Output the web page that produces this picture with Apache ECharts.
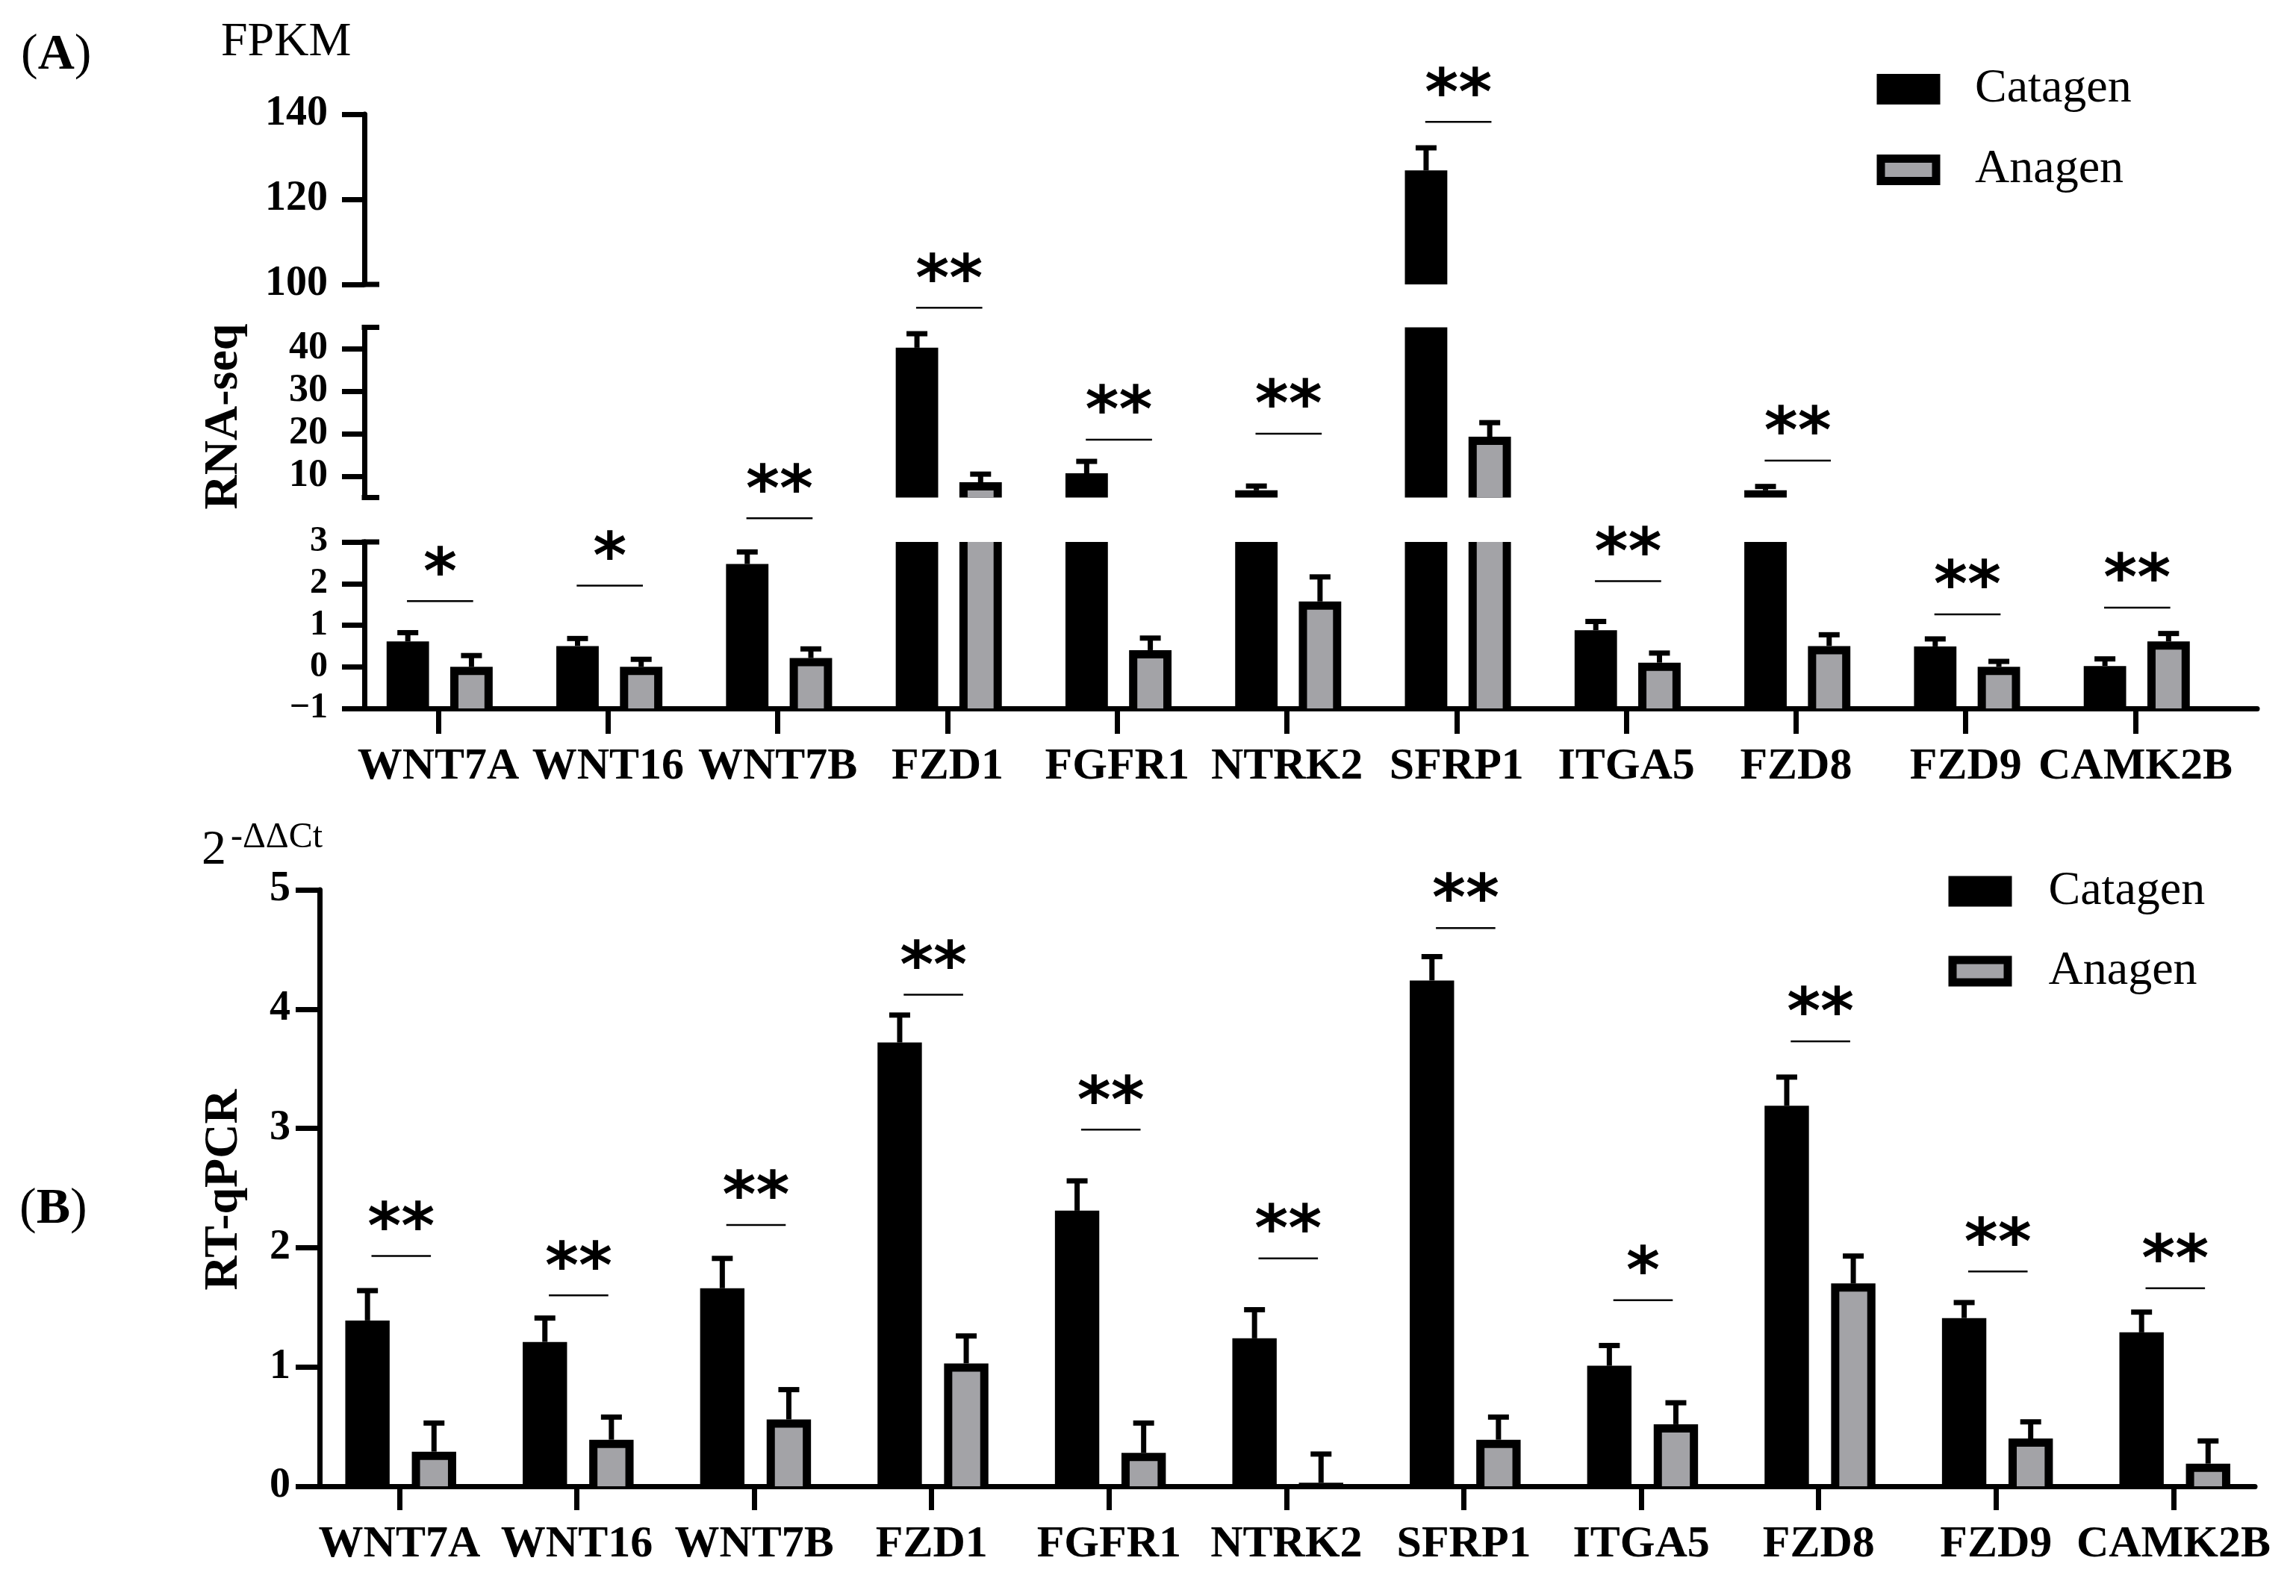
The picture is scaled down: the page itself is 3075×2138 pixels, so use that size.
<!DOCTYPE html>
<html><head><meta charset="utf-8">
<script src="https://cdn.jsdelivr.net/npm/echarts@6/dist/echarts.min.js"></script>
<style>html,body{margin:0;padding:0;background:#fff}#c{width:3075px;height:2138px}</style>
</head><body><div id="c"></div>
<script>
// ---------- data ----------
const genes = ['WNT7A','WNT16','WNT7B','FZD1','FGFR1','NTRK2','SFRP1','ITGA5','FZD8','FZD9','CAMK2B'];
// (A) RNA-seq, FPKM
const rnaCatagenMean = [0.61, 0.50, 2.47, 40.2, 10.7, 6.7, 126.8, 0.88, 6.7, 0.49, 0.02];
const rnaCatagenSD   = [0.21, 0.18, 0.29, 3.3, 2.8, 1.0, 5.3, 0.21, 0.9, 0.18, 0.17];
const rnaAnagenMean  = [0.00, 0.00, 0.21, 8.6, 0.40, 1.57, 19.3, 0.10, 0.50, 0.00, 0.61];
const rnaAnagenSD    = [0.27, 0.18, 0.22, 1.9, 0.29, 0.59, 3.3, 0.23, 0.27, 0.13, 0.19];
const rnaSigLevel    = [1.58, 1.95, 3.57, 49.6, 18.6, 20.0, 138.2, 2.06, 13.7, 1.26, 1.42];
const rnaSigMark     = ['*','*','**','**','**','**','**','**','**','**','**'];
// broken axis segments: bottom, middle, top
const rnaSegments = [[-1, 3], [5, 45], [100, 140]];
const rnaTicks    = [[-1, 0, 1, 2, 3], [10, 20, 30, 40], [100, 120, 140]];
const rnaTickStep = [1, 10, 20];
// (B) RT-qPCR, 2^-ddCt
const qpcrCatagenMean = [1.39, 1.21, 1.66, 3.72, 2.31, 1.24, 4.24, 1.01, 3.19, 1.41, 1.29];
const qpcrCatagenSD   = [0.25, 0.20, 0.25, 0.23, 0.25, 0.24, 0.20, 0.17, 0.24, 0.13, 0.17];
const qpcrAnagenMean  = [0.29, 0.39, 0.56, 1.03, 0.28, 0.03, 0.39, 0.52, 1.70, 0.40, 0.19];
const qpcrAnagenSD    = [0.24, 0.19, 0.25, 0.23, 0.25, 0.24, 0.19, 0.18, 0.23, 0.14, 0.19];
const qpcrSigLevel    = [1.93, 1.60, 2.19, 4.12, 2.99, 1.91, 4.68, 1.56, 3.73, 1.80, 1.66];
const qpcrSigMark     = ['**','**','**','**','**','**','**','*','**','**','**'];
const qpcrTicks = [0, 1, 2, 3, 4, 5];

// ---------- style ----------
const GRAY = '#a3a3a7';
const SERIF = '"Liberation Serif","Times New Roman",serif';
const BW = 11;          // anagen border
const BAR_W = 0.25;     // bar width in category units
const CAT_OFF = -0.18, ANA_OFF = 0.195;
const idx = genes.map((g, i) => i);

function barRender(seg, offset, anagen) {
  return function (params, api) {
    const i = api.value(0), v = api.value(1), sd = api.value(2);
    const cs = params.coordSys;
    const band = api.size([1, 0])[0];
    const w = band * BAR_W;
    const cx = api.coord([i + offset, seg[0]])[0];
    const base = api.coord([i, seg[0]])[1];
    const top = api.coord([i, v])[1];
    const ch = [];
    const t = Math.max(top, cs.y);
    if (v > seg[0] && t < base) {
      ch.push({type: 'rect', shape: {x: cx - w / 2, y: t, width: w, height: base - t}, style: {fill: '#000'}});
      if (anagen) {
        const it = Math.max(top + BW, cs.y);
        if (it < base) ch.push({type: 'rect', shape: {x: cx - w / 2 + BW, y: it, width: w - 2 * BW, height: base - it}, style: {fill: GRAY}});
      }
    }
    if (v >= seg[0] && v <= seg[1]) {
      const et = api.coord([i, v + sd])[1];
      ch.push({type: 'rect', shape: {x: cx - 3.5, y: et, width: 7, height: Math.max(0, top - et)}, style: {fill: '#000'}});
      ch.push({type: 'rect', shape: {x: cx - 14, y: et - 3.5, width: 28, height: 7}, style: {fill: '#000'}});
    }
    return {type: 'group', children: ch};
  };
}

function sigRender(marks, widthFrac) {
  return function (params, api) {
    const i = api.value(0), v = api.value(1);
    const band = api.size([1, 0])[0];
    const p = api.coord([i + 0.01, v]);
    const hw = band * widthFrac / 2;
    return {type: 'group', children: [
      {type: 'line', shape: {x1: p[0] - hw, y1: p[1], x2: p[0] + hw, y2: p[1]}, style: {stroke: '#000', lineWidth: 2.5}},
      {type: 'text', x: p[0], y: p[1] - 33, style: {text: marks[i], fill: '#000', font: 'bold 86px "DejaVu Sans"', align: 'center', verticalAlign: 'middle'}}
    ]};
  };
}

function stubRender(params, api) {
  const cs = params.coordSys;
  const y = api.coord([0, api.value(1)])[1];
  return {type: 'line', shape: {x1: cs.x - 3.5, y1: y, x2: cs.x + 20, y2: y}, style: {stroke: '#000', lineWidth: 7}};
}

// ---------- layout ----------
const grids = [
  {left: 488, top: 153, width: 2535, height: 228},   // A top    (segment 2)
  {left: 488, top: 438.5, width: 2535, height: 228}, // A middle (segment 1)
  {left: 488, top: 726, width: 2535, height: 223},   // A bottom (segment 0)
  {left: 428, top: 1192, width: 2592, height: 799}   // B
];
const gridOfSeg = [2, 1, 0];
const A_MIN = -0.436, A_MAX = 10.717, B_MIN = -0.45, B_MAX = 10.459;

const axLine = {show: true, onZero: false, lineStyle: {color: '#000', width: 7}};
function yAx(gi, min, max, ticks, step, margin, tickLen, fs) {
  const ax = {
    gridIndex: gi, type: 'value', min: min, max: max,
    axisLine: axLine,
    axisTick: {show: true, length: tickLen, lineStyle: {color: '#000', width: 7}, customValues: ticks},
    axisLabel: {customValues: ticks, showMinLabel: true, showMaxLabel: true, hideOverlap: false, margin: margin, color: '#000',
      fontFamily: SERIF, fontWeight: 'bold', fontSize: fs,
      formatter: v => String(v).replace('-', '\u2212')},
    splitLine: {show: false}
  };
  if (min % step === 0) ax.interval = step;
  return ax;
}
function xAx(gi, min, max, show, margin, tickLen) {
  if (!show) return {gridIndex: gi, type: 'value', min: min, max: max, show: false};
  return {
    gridIndex: gi, type: 'value', min: min, max: max,
    axisLine: axLine,
    axisTick: {show: true, length: tickLen, lineStyle: {color: '#000', width: 7}, customValues: idx},
    axisLabel: {customValues: idx, showMinLabel: true, showMaxLabel: true, hideOverlap: false, margin: margin, color: '#000',
      fontFamily: SERIF, fontWeight: 'bold', fontSize: 60,
      formatter: v => genes[Math.round(v)]},
    splitLine: {show: false}
  };
}

const series = [];
function rows(mean, sd) { return genes.map((g, i) => [i, mean[i], sd[i]]); }
for (let s = 0; s < 3; s++) {
  const seg = rnaSegments[s];
  const g = gridOfSeg[s];
  series.push({type: 'custom', name: 'Catagen', xAxisIndex: g, yAxisIndex: g, clip: false, itemStyle: {color: '#000'},
    renderItem: barRender(seg, CAT_OFF, false), data: rows(rnaCatagenMean, rnaCatagenSD), encode: {x: 0, y: 1}, z: 2});
  series.push({type: 'custom', name: 'Anagen', xAxisIndex: g, yAxisIndex: g, clip: false, itemStyle: {color: GRAY},
    renderItem: barRender(seg, ANA_OFF, true), data: rows(rnaAnagenMean, rnaAnagenSD), encode: {x: 0, y: 1}, z: 2});
  const sigData = genes.map((gn, i) => [i, rnaSigLevel[i]]).filter(d => {
    const lv = d[1];
    return s === 0 ? lv < rnaSegments[1][0] : s === 1 ? (lv >= rnaSegments[1][0] && lv < rnaSegments[2][0]) : lv >= rnaSegments[2][0];
  });
  series.push({type: 'custom', name: 'sig' + s, xAxisIndex: g, yAxisIndex: g, clip: false,
    renderItem: sigRender(rnaSigMark, 0.39), data: sigData, encode: {x: 0, y: 1}, z: 3});
}
// break marks at the segment ends
series.push({type: 'custom', name: 'brk0', xAxisIndex: 2, yAxisIndex: 2, clip: false, renderItem: stubRender,
  data: [[0, rnaSegments[0][1]]], z: 4});
series.push({type: 'custom', name: 'brk1', xAxisIndex: 1, yAxisIndex: 1, clip: false, renderItem: stubRender,
  data: [[0, rnaSegments[1][0]], [0, rnaSegments[1][1]]], z: 4});
series.push({type: 'custom', name: 'brk2', xAxisIndex: 0, yAxisIndex: 0, clip: false, renderItem: stubRender,
  data: [[0, rnaSegments[2][0]]], z: 4});
// panel B
series.push({type: 'custom', name: 'Catagen', xAxisIndex: 3, yAxisIndex: 3, clip: false, itemStyle: {color: '#000'},
  renderItem: barRender([0, 5], CAT_OFF, false), data: rows(qpcrCatagenMean, qpcrCatagenSD), encode: {x: 0, y: 1}, z: 2});
series.push({type: 'custom', name: 'Anagen', xAxisIndex: 3, yAxisIndex: 3, clip: false, itemStyle: {color: GRAY},
  renderItem: barRender([0, 5], ANA_OFF, true), data: rows(qpcrAnagenMean, qpcrAnagenSD), encode: {x: 0, y: 1}, z: 2});
series.push({type: 'custom', name: 'sigB', xAxisIndex: 3, yAxisIndex: 3, clip: false,
  renderItem: sigRender(qpcrSigMark, 0.335), data: genes.map((g, i) => [i, qpcrSigLevel[i]]), encode: {x: 0, y: 1}, z: 3});

const legendData = [
  {name: 'Catagen', itemStyle: {color: '#000', borderColor: '#000', borderWidth: BW}},
  {name: 'Anagen', itemStyle: {color: GRAY, borderColor: '#000', borderWidth: BW}}
];
function legend(left, top, gap, pad) {
  return {data: legendData, orient: 'vertical', left: left, top: top, padding: 0, itemGap: gap, icon: 'rect',
    itemWidth: 74, itemHeight: 30, selectedMode: false,
    textStyle: {fontFamily: SERIF, fontSize: 64, lineHeight: 64, color: '#000', padding: [0, 0, 0, pad]}};
}

const labelRich = {
  p: {fontFamily: SERIF, fontSize: 68, fill: '#000'},
  b: {fontFamily: SERIF, fontSize: 68, fontWeight: 'bold', fill: '#000'}
};
const option = {
  backgroundColor: '#fff',
  animation: false,
  grid: grids,
  xAxis: [xAx(0, A_MIN, A_MAX, false), xAx(1, A_MIN, A_MAX, false), xAx(2, A_MIN, A_MAX, true, 48, 34), xAx(3, B_MIN, B_MAX, true, 48, 32)],
  yAxis: [
    yAx(0, rnaSegments[2][0], rnaSegments[2][1], rnaTicks[2], rnaTickStep[2], 49, 30, 56),
    yAx(1, rnaSegments[1][0], rnaSegments[1][1], rnaTicks[1], rnaTickStep[1], 49, 30, 52),
    yAx(2, rnaSegments[0][0], rnaSegments[0][1], rnaTicks[0], rnaTickStep[0], 49, 30, 48),
    yAx(3, 0, 5, qpcrTicks, 1, 39, 32, 56)
  ],
  legend: [legend(2513.5, 87.5, 44, 47), legend(2609.5, 1162, 43, 49.5)],
  graphic: [
    {type: 'text', left: 28, top: 40, style: {text: '{p|(}{b|A}{p|)}', rich: labelRich}},
    {type: 'text', left: 26, top: 1586, style: {text: '{p|(}{b|B}{p|)}', rich: labelRich}},
    {type: 'text', x: 296, y: 57.5, style: {text: 'FPKM', font: '64px ' + SERIF, fill: '#000', align: 'left', verticalAlign: 'middle'}},
    {type: 'text', x: 300, y: 558, rotation: Math.PI / 2, style: {text: 'RNA-seq', font: 'bold 64px ' + SERIF, fill: '#000', align: 'center', verticalAlign: 'middle'}},
    {type: 'text', x: 300, y: 1594, rotation: Math.PI / 2, style: {text: 'RT-qPCR', font: 'bold 64px ' + SERIF, fill: '#000', align: 'center', verticalAlign: 'middle'}},
    {type: 'text', x: 270, y: 1140, style: {text: '2', font: '66px ' + SERIF, fill: '#000', align: 'left', verticalAlign: 'middle'}},
    {type: 'text', x: 309, y: 1122, style: {text: '-\u0394\u0394Ct', font: '48px ' + SERIF, fill: '#000', align: 'left', verticalAlign: 'middle'}}
  ],
  series: series
};
const chart = echarts.init(document.getElementById('c'), null, {renderer: 'canvas'});
chart.setOption(option);
</script>
</body></html>
